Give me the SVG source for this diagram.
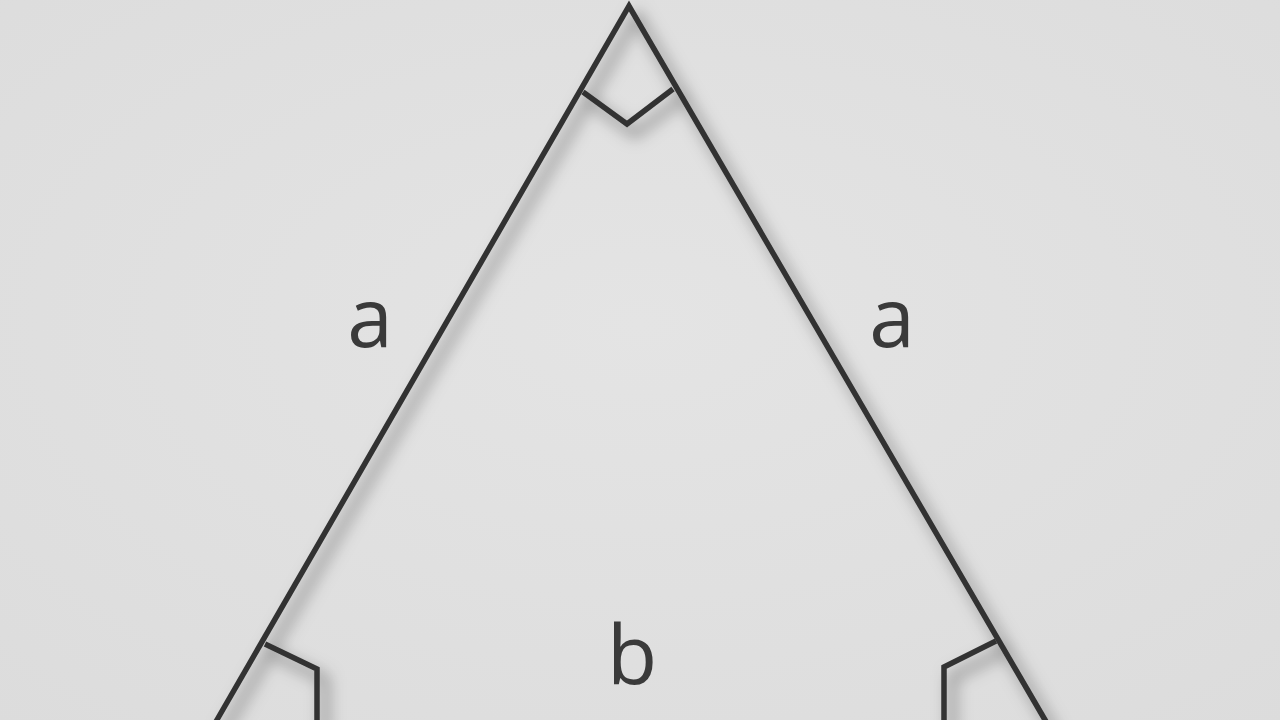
<svg xmlns="http://www.w3.org/2000/svg" width="1280" height="720" viewBox="0 0 1280 720">
<defs>
<radialGradient id="bg" cx="50%" cy="45%" r="75%">
<stop offset="0" stop-color="#e4e4e4"/>
<stop offset="1" stop-color="#dcdcdc"/>
</radialGradient>
<filter id="sh" x="-20%" y="-20%" width="140%" height="140%">
<feDropShadow dx="8" dy="10" stdDeviation="8" flood-color="#000" flood-opacity="0.5"/>
</filter>
<style>
.ln{fill:none;stroke:#333;stroke-width:5.5;stroke-linejoin:miter;stroke-linecap:butt}
.lb{font-family:"Open Sans","Liberation Sans",sans-serif;font-size:82px;fill:#3a3a3a;text-anchor:middle}
</style>
</defs>
<rect width="1280" height="720" fill="url(#bg)"/>
<g id="connectors" filter="url(#sh)">
<path id="triangle" class="ln" d="M214,725 L629,6 L1048,725"/>
<path id="apex-marker" class="ln" d="M583,92 L627,124 L673,89"/>
<path id="left-marker" class="ln" d="M265,644 L317,669 L317,725"/>
<path id="right-marker" class="ln" d="M996,641 L944,667 L944,725"/>
</g>
<g id="label-a-left"><text class="lb" x="370" y="347">a</text></g>
<g id="label-a-right"><text class="lb" x="892" y="347">a</text></g>
<g id="label-b"><text class="lb" x="632" y="684">b</text></g>
</svg>
